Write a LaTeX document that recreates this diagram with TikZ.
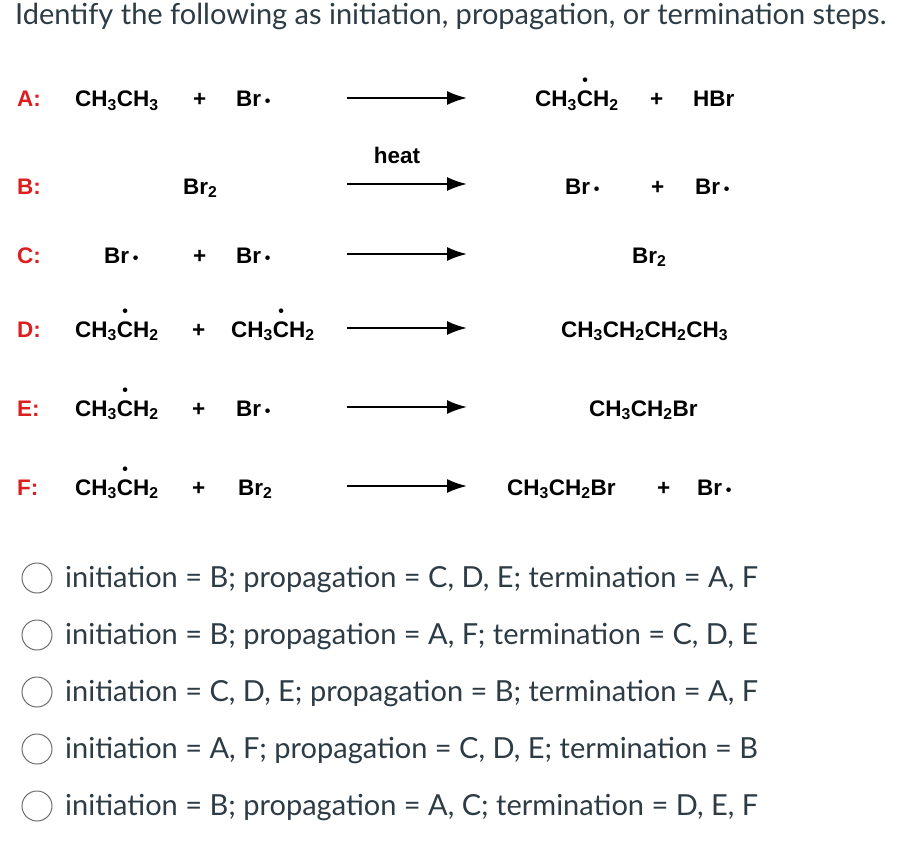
\documentclass[tikz,border=0pt]{standalone}
\usepackage{fontspec}
\setmainfont{Lato}
\newfontfamily\chem{Liberation Sans}[BoldFont={Liberation Sans Bold}]
\newcommand{\radC}{\ooalign{\hfil\raisebox{21pt}{\fontsize{16}{16}\selectfont\textbullet}\hfil\cr C\cr}}
\newcommand{\rad}{\,{\fontsize{16}{16}\selectfont\textbullet}}
\begin{document}
\begin{tikzpicture}[x=1pt,y=-1pt,
  ch/.style={anchor=base west,inner sep=0,font=\chem\bfseries\fontsize{22.5}{24}\selectfont},
  lab/.style={ch,text={rgb,255:red,220;green,30;blue,30}},
  rx/.style={line width=2pt,-{Latex[length=20pt,width=14pt]}},
  opt/.style={anchor=base west,inner sep=0,font=\fontsize{29}{32}\selectfont,text={rgb,255:red,45;green,59;blue,69}},
  circ/.style={circle,draw={rgb,255:red,110;green,110;blue,110},line width=1pt,minimum size=30pt,inner sep=0}]
\useasboundingbox (0,0) rectangle (909,853);
\usetikzlibrary{arrows.meta}
\node[anchor=base west,inner sep=0,font=\fontsize{29}{32}\selectfont,text={rgb,255:red,45;green,59;blue,69}] (title) at (15,25) {Identify the following as initiation, propagation, or termination steps.};
% A
\node[lab] (la) at (17,107) {A:};
\node[ch] (a1) at (75,107) {CH\textsubscript{3}CH\textsubscript{3}};
\node[ch] (a2) at (193,107) {+};
\node[ch] (a3) at (236,107) {Br\rad};
\coordinate (as) at (347,98); \coordinate (ae) at (467,98);
\draw[rx] (as) -- (ae);
\node[ch] (a4) at (535,107) {CH\textsubscript{3}\radC H\textsubscript{2}};
\node[ch] (a5) at (650,107) {+};
\node[ch] (a6) at (693,107) {HBr};
% B
\node[lab] (lb) at (17,194) {B:};
\node[ch] (b1) at (183,194) {Br\textsubscript{2}};
\coordinate (bs) at (347,184); \coordinate (be) at (467,184);
\draw[rx] (bs) -- (be);
\node[ch,anchor=base] (heat) at (397,164) {heat};
\node[ch] (b2) at (565,194) {Br\rad};
\node[ch] (b3) at (651,194) {+};
\node[ch] (b4) at (695,194) {Br\rad};
% C
\node[lab] (lc) at (17,263) {C:};
\node[ch] (c1) at (104,263) {Br\rad};
\node[ch] (c2) at (193,263) {+};
\node[ch] (c3) at (236,263) {Br\rad};
\coordinate (cs) at (347,254); \coordinate (ce) at (467,254);
\draw[rx] (cs) -- (ce);
\node[ch] (c4) at (632,263) {Br\textsubscript{2}};
% D
\node[lab] (ld) at (17,337) {D:};
\node[ch] (d1) at (75,337) {CH\textsubscript{3}\radC H\textsubscript{2}};
\node[ch] (d2) at (192,337) {+};
\node[ch] (d3) at (231,337) {CH\textsubscript{3}\radC H\textsubscript{2}};
\coordinate (ds) at (347,328); \coordinate (de) at (467,328);
\draw[rx] (ds) -- (de);
\node[ch] (d4) at (561,337) {CH\textsubscript{3}CH\textsubscript{2}CH\textsubscript{2}CH\textsubscript{3}};
% E
\node[lab] (le) at (17,416) {E:};
\node[ch] (e1) at (75,416) {CH\textsubscript{3}\radC H\textsubscript{2}};
\node[ch] (e2) at (192,416) {+};
\node[ch] (e3) at (236,416) {Br\rad};
\coordinate (es) at (347,407); \coordinate (ee) at (467,407);
\draw[rx] (es) -- (ee);
\node[ch] (e4) at (589,416) {CH\textsubscript{3}CH\textsubscript{2}Br};
% F
\node[lab] (lf) at (17,495) {F:};
\node[ch] (f1) at (75,495) {CH\textsubscript{3}\radC H\textsubscript{2}};
\node[ch] (f2) at (192,495) {+};
\node[ch] (f3) at (238,495) {Br\textsubscript{2}};
\coordinate (fs) at (347,486); \coordinate (fe) at (467,486);
\draw[rx] (fs) -- (fe);
\node[ch] (f4) at (507,495) {CH\textsubscript{3}CH\textsubscript{2}Br};
\node[ch] (f5) at (657,495) {+};
\node[ch] (f6) at (697,495) {Br\rad};
% options
\node[circ] (o1) at (37,578) {};
\node[opt] (t1) at (65,587) {initiation = B; propagation = C, D, E; termination = A, F};
\node[circ] (o2) at (37,635) {};
\node[opt] (t2) at (65,644) {initiation = B; propagation = A, F; termination = C, D, E};
\node[circ] (o3) at (37,692) {};
\node[opt] (t3) at (65,701) {initiation = C, D, E; propagation = B; termination = A, F};
\node[circ] (o4) at (37,749) {};
\node[opt] (t4) at (65,758) {initiation = A, F; propagation = C, D, E; termination = B};
\node[circ] (o5) at (37,806) {};
\node[opt] (t5) at (65,815) {initiation = B; propagation = A, C; termination = D, E, F};
\end{tikzpicture}
\end{document}
